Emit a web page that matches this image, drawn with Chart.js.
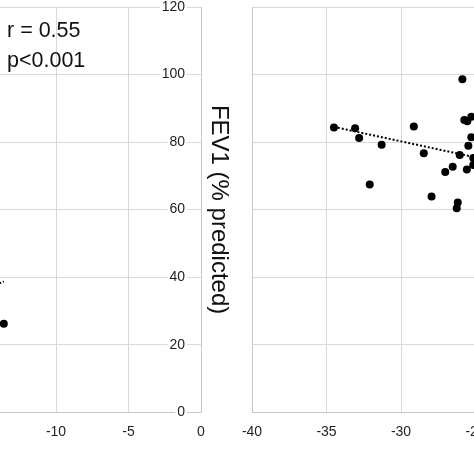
<!DOCTYPE html>
<html>
<head>
<meta charset="utf-8">
<script src="https://cdn.jsdelivr.net/npm/chart.js@4/dist/chart.umd.min.js"></script>
<style>
  html, body { margin: 0; padding: 0; background: #fff; }
  body { width: 474px; height: 474px; position: relative; overflow: hidden; }
  .panel { position: absolute; top: 0; height: 474px; }
  #leftPanel { left: -93px; width: 330px; }
  #rightPanel { left: 237px; width: 317px; }
  .stats { position: absolute; left: 7px; top: 15px; font: 21.5px 'Liberation Sans', Arial, sans-serif; line-height: 30px; color: #111; }
</style>
</head>
<body>
<div id="leftPanel" class="panel"><canvas id="leftChart"></canvas></div>
<div id="rightPanel" class="panel"><canvas id="rightChart"></canvas></div>
<div class="stats">r = 0.55<br>p&lt;0.001</div>
<script>
// Two scatter panels side by side, both cropped by the picture frame.
// Left panel only shows its right end; right panel only its left part.

const LEFT_X = [-13.6];
const LEFT_Y = [26.2];
const LEFT_TREND_X = [-18, -13.6];
const LEFT_TREND_Y = [31, 38.7];

const RIGHT_X = [-34.5, -33.08, -32.81, -31.3, -32.1, -29.14, -28.47, -27.95, -27.03, -26.53, -26.19,
  -26.26, -26.06, -25.88, -25.75, -25.55, -25.28, -25.28, -25.48, -25.58, -25.15, -25.15];
const RIGHT_Y = [84.3, 84.1, 81.2, 79.2, 67.4, 84.6, 76.7, 63.9, 71.1, 72.7, 62.1,
  60.4, 76.2, 98.6, 86.5, 86.2, 87.5, 81.4, 78.9, 71.9, 75.3, 73.2];
const RIGHT_TREND_X = [-34.5, -22];
const RIGHT_TREND_Y = [84.5, 72.6];

const Y_MIN = 0, Y_MAX = 120, Y_STEP = 20;
const LEFT_X_MIN = -20, LEFT_X_MAX = 0;
const RIGHT_X_MIN = -40, RIGHT_X_MAX = -20;
const X_STEP = 5;
const Y_TITLE = 'FEV1 (% predicted)';

const FONT = "'Liberation Sans', Arial, sans-serif";
const COLOR_GRID = '#d9d9d9';
const COLOR_BORDER = '#c8c8c8';
const COLOR_TEXT = '#1f1f1f';

const pairs = (xs, ys) => xs.map((x, i) => ({ x, y: ys[i] }));

function pointsDataset(xs, ys) {
  return {
    type: 'scatter',
    data: pairs(xs, ys),
    backgroundColor: '#000',
    borderWidth: 0,
    pointRadius: 4,
  };
}

function trendDataset(xs, ys) {
  return {
    type: 'line',
    data: pairs(xs, ys),
    borderColor: '#000',
    borderWidth: 2,
    borderDash: [2, 2],
    pointRadius: 0,
    fill: false,
  };
}

// the panels are cut by the frame, so drop the edge padding chart.js
// reserves for half-labels; plot edges then follow layout.padding only
function noEdgePadding(scale) {
  scale.paddingLeft = 0;
  scale.paddingRight = 0;
  scale.paddingTop = 0;
  scale.paddingBottom = 0;
}

function xScale(min, max) {
  return {
    type: 'linear',
    position: 'bottom',
    min, max,
    grid: { color: COLOR_GRID, drawTicks: false },
    border: { color: COLOR_BORDER },
    ticks: { stepSize: X_STEP, color: COLOR_TEXT, font: { family: FONT, size: 14 }, padding: 12, maxRotation: 0 },
    afterFit: noEdgePadding,
  };
}

const baseOptions = {
  responsive: true,
  maintainAspectRatio: false,
  animation: false,
  plugins: { legend: { display: false }, tooltip: { enabled: false } },
};

new Chart(document.getElementById('leftChart'), {
  data: {
    datasets: [trendDataset(LEFT_TREND_X, LEFT_TREND_Y), pointsDataset(LEFT_X, LEFT_Y)],
  },
  options: {
    ...baseOptions,
    layout: { padding: { top: 7, bottom: 21, left: 0, right: 0 } },
    scales: {
      x: xScale(LEFT_X_MIN, LEFT_X_MAX),
      y: {
        type: 'linear',
        position: 'right',
        min: Y_MIN, max: Y_MAX,
        grid: { color: COLOR_GRID, drawTicks: false },
        border: { color: COLOR_BORDER },
        ticks: {
          stepSize: Y_STEP,
          mirror: true,
          padding: -16, // labels sit inside the plot, left of the border
          color: COLOR_TEXT,
          font: { family: FONT, size: 14 },
          showLabelBackdrop: true,
          backdropColor: '#fff',
          backdropPadding: 2,
        },
        title: {
          display: true,
          text: Y_TITLE,
          color: '#111',
          font: { family: FONT, size: 24 },
          padding: { top: 4, bottom: 4 },
        },
        afterFit: (scale) => {
          noEdgePadding(scale);
          scale.width = 36;
        },
      },
    },
  },
});

new Chart(document.getElementById('rightChart'), {
  data: {
    datasets: [trendDataset(RIGHT_TREND_X, RIGHT_TREND_Y), pointsDataset(RIGHT_X, RIGHT_Y)],
  },
  options: {
    ...baseOptions,
    layout: { padding: { top: 7, bottom: 21, left: 15, right: 0 } },
    scales: {
      x: xScale(RIGHT_X_MIN, RIGHT_X_MAX),
      y: {
        type: 'linear',
        position: 'left',
        min: Y_MIN, max: Y_MAX,
        grid: { color: COLOR_GRID, drawTicks: false },
        border: { color: COLOR_BORDER },
        ticks: { stepSize: Y_STEP, display: false },
        afterFit: (scale) => {
          noEdgePadding(scale);
          scale.width = 0;
        },
      },
    },
  },
});
</script>
</body>
</html>
